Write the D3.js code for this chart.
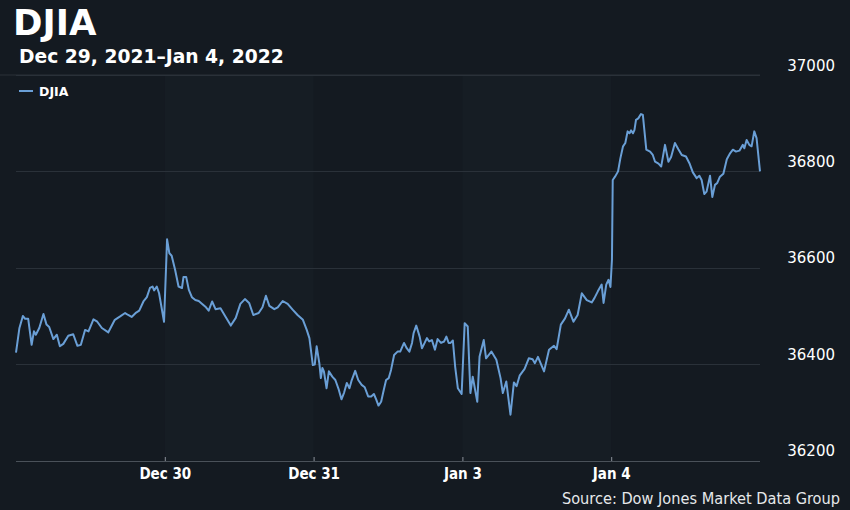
<!DOCTYPE html>
<html>
<head>
<meta charset="utf-8">
<script src="https://cdn.jsdelivr.net/npm/d3@7"></script>
<style>
  html, body { margin: 0; padding: 0; background: #141a21; }
  svg { display: block; }
</style>
</head>
<body>
<script>
// intraday DJIA readings, [minutes since open, value]
const dec29 = [[0,36424],[9,36475],[18,36500],[24,36494],[32,36494],[41,36440],[47,36468],[52,36461],[61,36475],[72,36504],[80,36482],[87,36477],[98,36452],[107,36461],[115,36437],[124,36442],[137,36459],[150,36462],[161,36438],[170,36440],[181,36471],[190,36468],[203,36493],[213,36488],[225,36475],[242,36466],[259,36492],[273,36499],[286,36506],[294,36502],[303,36498],[315,36507],[323,36511],[334,36530],[343,36539],[351,36558],[358,36561],[362,36553],[369,36561],[375,36547],[388,36488]];
const dec30 = [[6,36659],[12,36630],[18,36625],[27,36596],[36,36561],[45,36558],[49,36581],[56,36581],[63,36554],[71,36539],[80,36533],[89,36531],[98,36525],[108,36518],[115,36511],[124,36530],[133,36514],[146,36516],[158,36500],[173,36480],[186,36496],[198,36525],[210,36535],[221,36527],[232,36502],[246,36506],[256,36518],[265,36542],[274,36521],[287,36514],[296,36518],[309,36531],[322,36525],[335,36513],[348,36502],[362,36492],[372,36471],[379,36454],[388,36398]];
const dec31 = [[3,36399],[8,36437],[15,36402],[19,36371],[23,36392],[27,36385],[34,36350],[40,36385],[49,36374],[57,36367],[66,36347],[73,36327],[80,36341],[87,36361],[94,36350],[100,36367],[109,36386],[117,36367],[126,36357],[134,36352],[143,36333],[151,36333],[158,36338],[164,36327],[170,36314],[177,36322],[184,36347],[190,36367],[197,36371],[203,36388],[211,36419],[220,36426],[227,36426],[237,36444],[244,36433],[251,36426],[258,36444],[262,36464],[269,36480],[278,36457],[284,36433],[291,36444],[297,36454],[303,36447],[310,36450],[318,36430],[325,36452],[334,36444],[342,36447],[348,36457],[354,36444],[359,36444],[365,36449],[371,36395],[378,36350],[388,36338]];
const jan3 = [[6,36485],[14,36478],[21,36340],[27,36374],[39,36322],[45,36416],[56,36450],[62,36412],[76,36426],[89,36409],[100,36371],[106,36340],[115,36364],[126,36295],[135,36362],[142,36354],[150,36376],[163,36390],[174,36412],[184,36410],[190,36402],[198,36415],[214,36385],[227,36430],[240,36438],[247,36431],[258,36482],[269,36495],[279,36513],[291,36488],[302,36502],[313,36547],[326,36533],[339,36528],[346,36537],[355,36551],[365,36565],[370,36527],[377,36565],[383,36575],[388,36560]];
const jan4 = [[2,36617],[4,36782],[10,36789],[18,36800],[24,36827],[31,36852],[37,36859],[43,36883],[48,36879],[52,36885],[57,36879],[61,36886],[65,36907],[71,36910],[78,36919],[83,36917],[92,36845],[102,36841],[109,36834],[115,36820],[124,36816],[131,36810],[141,36855],[150,36820],[157,36830],[167,36859],[176,36846],[185,36834],[196,36831],[205,36817],[214,36798],[224,36786],[231,36791],[237,36782],[244,36753],[250,36758],[259,36791],[265,36747],[272,36772],[278,36776],[285,36789],[294,36795],[303,36825],[312,36838],[319,36845],[327,36841],[336,36843],[345,36855],[349,36848],[355,36865],[362,36855],[368,36852],[375,36883],[381,36869],[390,36800]];

const sessions = [dec29, dec30, dec31, jan3, jan4];
const dayLabels = ["Dec 29", "Dec 30", "Dec 31", "Jan 3", "Jan 4"];
const yTicks = [36200, 36400, 36600, 36800, 37000];
const sessionMinutes = 390;

const w = 850;
const h = 510;

const points = sessions.flatMap((s, i) => s.map(d => ({ t: i + d[0] / sessionMinutes, v: d[1] })));

const x = d3.scaleLinear().domain([0, sessions.length]).range([16, 760]);
const y = d3.scaleLinear().domain([36200, 37000]).range([460.5, 75]);

const svg = d3.select("body")
  .append("svg")
  .attr("width", w)
  .attr("height", h);

svg.append("rect")
  .attr("width", w)
  .attr("height", h)
  .attr("fill", "#141a21");

// faint alternate day bands
svg.append("g")
  .selectAll("rect")
  .data(d3.range(sessions.length).filter(i => i % 2 === 1))
  .join("rect")
  .attr("x", i => x(i))
  .attr("width", i => x(i + 1) - x(i))
  .attr("y", y(37000))
  .attr("height", y(36200) - y(37000))
  .attr("fill", "#161d24");

// header rule
svg.append("line")
  .attr("x1", 0).attr("x2", x(sessions.length))
  .attr("y1", y(37000)).attr("y2", y(37000))
  .attr("stroke", "#2a3139");

// gridlines + labels on right
const yAxis = svg.append("g");
yAxis.selectAll("line")
  .data(yTicks)
  .join("line")
  .attr("x1", x(0)).attr("x2", x(sessions.length))
  .attr("y1", d => Math.round(y(d)) + 0.5)
  .attr("y2", d => Math.round(y(d)) + 0.5)
  .attr("stroke", d => d === 36200 ? "#4a5159" : "#2a3139")
  .attr("stroke-width", 1);

yAxis.selectAll("text")
  .data(yTicks)
  .join("text")
  .attr("x", 835)
  .attr("y", d => y(d) - 4.5)
  .attr("text-anchor", "end")
  .attr("fill", "#ffffff")
  .style("font-family", "'DejaVu Sans', sans-serif")
  .style("font-size", "15px")
  .text(d => d);

// x axis ticks
const xAxis = svg.append("g")
  .attr("transform", `translate(0,${Math.round(y(36200))})`)
  .call(d3.axisBottom(x)
    .tickValues(d3.range(1, sessions.length))
    .tickFormat(i => dayLabels[i])
    .tickSize(-4)
    .tickPadding(7));

xAxis.select(".domain").remove();
xAxis.selectAll(".tick line").attr("stroke", "#8a9099");
xAxis.selectAll(".tick text")
  .attr("fill", "#ffffff")
  .style("font-family", "'DejaVu Sans Condensed', 'DejaVu Sans', sans-serif")
  .style("font-stretch", "condensed")
  .style("font-weight", "bold")
  .style("font-size", "15px");

// the series
const line = d3.line()
  .x(d => x(d.t))
  .y(d => y(d.v));

svg.append("path")
  .datum(points)
  .attr("d", line)
  .attr("fill", "none")
  .attr("stroke", "#6a9fd6")
  .attr("stroke-width", 2)
  .attr("stroke-linejoin", "round");

// title block
svg.append("text")
  .attr("x", 13)
  .attr("y", 35)
  .attr("fill", "#ffffff")
  .style("font-family", "'DejaVu Sans', sans-serif")
  .style("font-weight", "bold")
  .style("font-size", "35.5px")
  .text("DJIA");

svg.append("text")
  .attr("x", 19)
  .attr("y", 63)
  .attr("fill", "#ffffff")
  .style("font-family", "'DejaVu Sans', sans-serif")
  .style("font-weight", "bold")
  .style("font-size", "18.7px")
  .text("Dec 29, 2021\u2013Jan 4, 2022");

// legend
svg.append("line")
  .attr("x1", 19).attr("x2", 33)
  .attr("y1", 91).attr("y2", 91)
  .attr("stroke", "#6a9fd6")
  .attr("stroke-width", 2);

svg.append("text")
  .attr("x", 39)
  .attr("y", 96)
  .attr("fill", "#ffffff")
  .style("font-family", "'DejaVu Sans', sans-serif")
  .style("font-weight", "bold")
  .style("font-size", "12.5px")
  .text("DJIA");

svg.append("text")
  .attr("x", 840)
  .attr("y", 504)
  .attr("text-anchor", "end")
  .attr("fill", "#e6e8ea")
  .style("font-family", "'DejaVu Sans Condensed', 'DejaVu Sans', sans-serif")
  .style("font-stretch", "condensed")
  .style("font-size", "16.2px")
  .text("Source: Dow Jones Market Data Group");
</script>
</body>
</html>
